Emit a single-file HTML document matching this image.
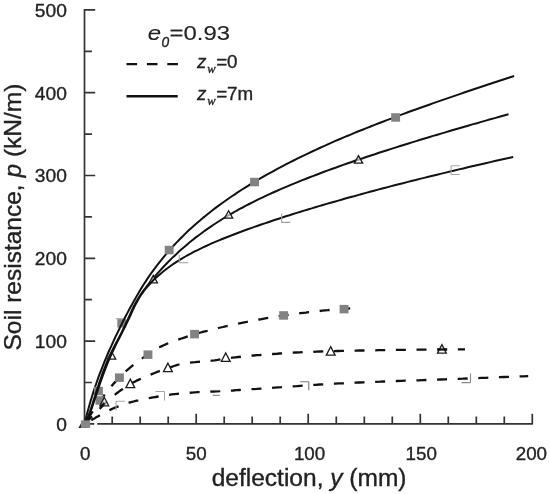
<!DOCTYPE html>
<html lang="en"><head><meta charset="utf-8"><title>p-y curves</title>
<style>html,body{margin:0;padding:0;background:#fff}svg{display:block;filter:blur(0.4px)}text{font-family:"Liberation Sans",sans-serif;fill:#222;stroke:#222;stroke-width:0.35px}.i{font-style:italic}</style>
</head><body>
<svg width="550" height="494" viewBox="0 0 550 494">
<rect width="550" height="494" fill="#fff"/>
<g stroke="#333" stroke-width="1.7" fill="none">
<path d="M84.5 9.00V423.9H532.9"/>
<path d="M84.5 382.5h7.4M84.5 341.1h10.7M84.5 299.7h7.4M84.5 258.3h10.7M84.5 216.9h7.4M84.5 175.5h10.7M84.5 134.1h7.4M84.5 92.7h10.7M84.5 51.3h7.4M84.5 9.9h10.7M112.2 423.9v-7.4M140.2 423.9v-7.4M168.2 423.9v-7.4M196.2 423.9v-10.2M224.2 423.9v-7.4M252.2 423.9v-7.4M280.2 423.9v-7.4M308.2 423.9v-10.2M336.3 423.9v-7.4M364.3 423.9v-7.4M392.3 423.9v-7.4M420.3 423.9v-10.2M448.3 423.9v-7.4M476.3 423.9v-7.4M504.3 423.9v-7.4M532.3 423.9v-10.2"/>
</g>
<path d="M94.3 423.9H97.2" stroke="#fff" stroke-width="2.6"/>
<path d="M78.4 427.9H87L82.6 420.4Z" fill="#222" stroke="none"/>
<g>
<path d="M84.5 424.4 L84.7 424.1 L85.0 423.7 L85.3 423.0 L85.8 422.3 L86.3 421.5 L86.9 420.5 L87.5 419.6 L88.2 418.5 L88.9 417.4 L89.6 416.2 L90.4 415.0 L91.2 413.7 L92.1 412.4 L93.0 411.1 L93.9 409.7 L94.9 408.3 L95.9 406.8 L96.9 405.4 L97.9 403.9 L99.0 402.4 L100.1 400.8 L101.2 399.3 L102.4 397.7 L103.6 396.1 L104.8 394.5 L106.0 392.9 L107.3 391.3 L108.5 389.7 L109.8 388.1 L111.2 386.5 L112.5 384.9 L113.9 383.4 L115.3 381.9 L116.7 380.3 L118.1 378.8 L119.5 377.3 L121.0 375.9 L122.5 374.4 L124.0 373.0 L125.5 371.5 L127.1 370.2 L128.7 368.8 L130.3 367.4 L131.9 366.1 L133.5 364.8 L135.1 363.6 L136.8 362.3 L138.5 361.0 L140.2 359.8 L141.9 358.6 L143.6 357.4 L145.3 356.2 L147.1 355.0 L148.9 353.8 L150.7 352.7 L152.5 351.5 L154.3 350.3 L156.2 349.2 L158.0 348.1 L159.9 347.0 L161.8 346.1 L163.7 345.2 L165.6 344.4 L167.6 343.5 L169.5 342.8 L171.5 342.0 L173.5 341.3 L175.5 340.6 L177.5 339.9 L179.5 339.2 L181.6 338.5 L183.6 337.8 L185.7 337.1 L187.8 336.4 L189.9 335.7 L192.0 335.1 L194.1 334.4 L196.3 333.8 L198.4 333.1 L200.6 332.5 L202.8 331.9 L205.0 331.3 L207.2 330.8 L209.4 330.2 L211.7 329.7 L213.9 329.1 L216.2 328.6 L218.4 328.0 L220.7 327.5 L223.0 327.0 L225.4 326.4 L227.7 325.9 L230.0 325.4 L232.4 324.9 L234.7 324.4 L237.1 323.8 L239.5 323.3 L241.9 322.8 L244.3 322.3 L246.8 321.9 L249.2 321.4 L251.6 320.9 L254.1 320.4 L256.6 320.0 L259.1 319.5 L261.6 319.1 L264.1 318.6 L266.6 318.2 L269.1 317.8 L271.7 317.3 L274.2 316.9 L276.8 316.5 L279.4 316.1 L282.0 315.7 L284.6 315.4 L287.2 315.0 L289.8 314.6 L292.5 314.3 L295.1 313.9 L297.8 313.6 L300.5 313.2 L303.1 312.9 L305.8 312.6 L308.5 312.2 L311.3 311.9 L314.0 311.6 L316.7 311.3 L319.5 311.0 L322.2 310.7 L325.0 310.4 L327.8 310.2 L330.6 309.9 L333.4 309.7 L336.2 309.4 L339.0 309.2 L341.8 309.0 L344.7 308.8 L347.5 308.6 L350.4 308.4" fill="none" stroke="#111" stroke-width="2.3" stroke-dasharray="10 10.65" stroke-dashoffset="-5.4"/>
<rect x="95.5" y="396.2" width="8.9" height="8.5" fill="#828282"/>
<rect x="115.0" y="373.4" width="8.9" height="8.5" fill="#828282"/>
<rect x="143.5" y="350.4" width="8.9" height="8.5" fill="#828282"/>
<rect x="190.1" y="329.9" width="8.9" height="8.5" fill="#828282"/>
<rect x="279.2" y="311.2" width="8.9" height="8.5" fill="#828282"/>
<rect x="339.6" y="304.9" width="8.9" height="8.5" fill="#828282"/>
</g>
<g>
<path d="M84.5 424.4 L84.7 424.1 L85.2 423.7 L85.7 423.1 L86.4 422.4 L87.1 421.6 L87.9 420.7 L88.8 419.8 L89.8 418.8 L90.8 417.7 L91.8 416.6 L93.0 415.4 L94.2 414.2 L95.4 413.0 L96.7 411.7 L98.0 410.4 L99.4 409.0 L100.8 407.7 L102.2 406.3 L103.7 404.9 L105.3 403.4 L106.8 401.9 L108.5 400.4 L110.1 398.9 L111.8 397.4 L113.5 395.9 L115.3 394.4 L117.1 393.0 L118.9 391.6 L120.8 390.3 L122.7 389.0 L124.6 387.7 L126.5 386.4 L128.5 385.2 L130.5 384.0 L132.6 382.8 L134.7 381.7 L136.8 380.6 L138.9 379.6 L141.0 378.6 L143.2 377.6 L145.5 376.7 L147.7 375.7 L150.0 374.8 L152.3 373.9 L154.6 373.0 L156.9 372.0 L159.3 371.1 L161.7 370.1 L164.1 369.2 L166.6 368.4 L169.1 367.6 L171.6 366.8 L174.1 366.0 L176.6 365.2 L179.2 364.5 L181.8 363.9 L184.4 363.4 L187.1 363.1 L189.7 362.7 L192.4 362.4 L195.1 362.2 L197.8 361.9 L200.6 361.7 L203.4 361.5 L206.2 361.3 L209.0 361.0 L211.8 360.7 L214.7 360.4 L217.6 359.9 L220.5 359.3 L223.4 358.7 L226.4 358.3 L229.3 358.0 L232.3 357.6 L235.3 357.3 L238.3 357.0 L241.4 356.7 L244.4 356.4 L247.5 356.1 L250.6 355.8 L253.8 355.5 L256.9 355.2 L260.1 355.0 L263.3 354.7 L266.5 354.5 L269.7 354.2 L272.9 354.0 L276.2 353.8 L279.4 353.5 L282.7 353.3 L286.1 353.1 L289.4 352.9 L292.7 352.7 L296.1 352.5 L299.5 352.4 L302.9 352.2 L306.3 352.0 L309.8 351.9 L313.2 351.8 L316.7 351.6 L320.2 351.5 L323.7 351.4 L327.2 351.3 L330.8 351.2 L334.3 351.1 L337.9 351.0 L341.5 350.9 L345.1 350.9 L348.7 350.8 L352.4 350.7 L356.0 350.6 L359.7 350.5 L363.4 350.5 L367.1 350.4 L370.8 350.3 L374.6 350.3 L378.3 350.2 L382.1 350.1 L385.9 350.1 L389.7 350.0 L393.5 350.0 L397.4 349.9 L401.2 349.9 L405.1 349.8 L409.0 349.8 L412.9 349.7 L416.8 349.7 L420.7 349.7 L424.7 349.6 L428.6 349.6 L432.6 349.6 L436.6 349.5 L440.6 349.5 L444.7 349.5 L448.7 349.5 L452.7 349.4 L456.8 349.4 L460.9 349.4 L465.0 349.4" fill="none" stroke="#111" stroke-width="2.3" stroke-dasharray="10 10.65" stroke-dashoffset="-1.1"/>
<path d="M99.9 405.8H108.7L104.3 397.3Z" fill="#fff" fill-opacity="0.6" stroke="#1a1a1a" stroke-width="1.3" stroke-linejoin="miter"/>
<path d="M125.9 387.7H134.7L130.3 379.2Z" fill="#fff" fill-opacity="0.6" stroke="#1a1a1a" stroke-width="1.3" stroke-linejoin="miter"/>
<path d="M163.5 371.6H172.3L167.9 363.1Z" fill="#fff" fill-opacity="0.6" stroke="#1a1a1a" stroke-width="1.3" stroke-linejoin="miter"/>
<path d="M221.3 361.4H230.1L225.7 352.9Z" fill="#fff" fill-opacity="0.6" stroke="#1a1a1a" stroke-width="1.3" stroke-linejoin="miter"/>
<path d="M326.3 355.2H335.1L330.7 346.7Z" fill="#fff" fill-opacity="0.6" stroke="#1a1a1a" stroke-width="1.3" stroke-linejoin="miter"/>
<path d="M437.5 353.2H446.3L441.9 344.7Z" fill="#fff" fill-opacity="0.6" stroke="#1a1a1a" stroke-width="1.3" stroke-linejoin="miter"/>
<path d="M104.6 403.2l-4.2 3.4M437.6 349.5H446.4" stroke="#111" stroke-width="2.2" fill="none"/>
</g>
<g>
<path d="M84.5 424.4 L84.8 424.2 L85.3 423.9 L85.9 423.5 L86.7 423.0 L87.5 422.5 L88.5 421.9 L89.5 421.3 L90.6 420.6 L91.8 419.9 L93.1 419.1 L94.4 418.4 L95.8 417.6 L97.2 416.8 L98.7 415.9 L100.2 415.0 L101.8 414.1 L103.5 413.2 L105.2 412.3 L106.9 411.4 L108.7 410.5 L110.6 409.6 L112.4 408.7 L114.4 407.9 L116.3 407.1 L118.3 406.4 L120.4 405.6 L122.5 404.8 L124.6 404.1 L126.8 403.4 L129.0 402.7 L131.2 402.1 L133.5 401.5 L135.8 400.9 L138.2 400.4 L140.6 399.8 L143.0 399.3 L145.4 398.8 L147.9 398.3 L150.4 397.9 L153.0 397.4 L155.6 397.0 L158.2 396.5 L160.8 396.0 L163.5 395.6 L166.2 395.2 L169.0 394.8 L171.7 394.4 L174.5 394.1 L177.4 393.8 L180.2 393.5 L183.1 393.3 L186.0 393.0 L189.0 392.8 L191.9 392.6 L194.9 392.4 L198.0 392.2 L201.0 392.1 L204.1 391.9 L207.2 391.8 L210.3 391.7 L213.5 391.5 L216.7 391.4 L219.9 391.2 L223.1 391.0 L226.4 390.8 L229.7 390.7 L233.0 390.5 L236.3 390.2 L239.7 390.0 L243.1 389.8 L246.5 389.6 L249.9 389.3 L253.4 389.1 L256.9 388.9 L260.4 388.6 L263.9 388.4 L267.4 388.1 L271.0 387.9 L274.6 387.6 L278.2 387.3 L281.9 387.1 L285.5 386.8 L289.2 386.6 L292.9 386.3 L296.7 386.1 L300.4 385.8 L304.2 385.6 L308.0 385.3 L311.8 385.0 L315.7 384.8 L319.5 384.5 L323.4 384.3 L327.3 384.0 L331.3 383.8 L335.2 383.6 L339.2 383.4 L343.2 383.3 L347.2 383.1 L351.2 382.9 L355.2 382.7 L359.3 382.5 L363.4 382.3 L367.5 382.2 L371.7 382.0 L375.8 381.8 L380.0 381.7 L384.2 381.5 L388.4 381.4 L392.6 381.2 L396.9 381.0 L401.1 380.9 L405.4 380.7 L409.7 380.6 L414.1 380.4 L418.4 380.3 L422.8 380.1 L427.1 380.0 L431.5 379.8 L436.0 379.7 L440.4 379.5 L444.9 379.3 L449.3 379.2 L453.8 379.0 L458.4 378.8 L462.9 378.7 L467.4 378.5 L472.0 378.3 L476.6 378.1 L481.2 377.9 L485.8 377.8 L490.5 377.6 L495.1 377.4 L499.8 377.2 L504.5 377.0 L509.2 376.8 L513.9 376.7 L518.7 376.5 L523.4 376.3 L528.2 376.1" fill="none" stroke="#111" stroke-width="2.3" stroke-dasharray="10 10.65" stroke-dashoffset="-8.0"/>
<path d="M116.0 401.2H125.0M116.0 401.2V410.2" fill="none" stroke="#a6a6a6" stroke-width="1.1"/>
<path d="M155.5 391.5H164.5M164.5 391.5V400.5" fill="none" stroke="#a6a6a6" stroke-width="1.1"/>
<path d="M212.7 390.4H219.8M212.7 395.3H219.8" fill="none" stroke="#777" stroke-width="1"/>
<path d="M300.2 381.8H308.8M308.8 381.8V390.2" fill="none" stroke="#777" stroke-width="1.1"/>
<path d="M461.5 382.6H470.5M470.5 373.6V382.6" fill="none" stroke="#888" stroke-width="1.1"/>
</g>
<g>
<rect x="117.3" y="319.1" width="8.9" height="8.5" fill="#828282"/>
<path d="M84.5 424.0 L84.8 422.9 L85.2 420.9 L85.9 418.4 L86.6 415.4 L87.4 412.3 L88.4 408.8 L89.4 405.3 L90.4 401.6 L91.6 397.8 L92.8 393.9 L94.1 389.9 L95.4 386.0 L96.8 382.0 L98.2 377.9 L99.7 373.9 L101.3 369.8 L102.9 365.8 L104.5 361.7 L106.2 357.6 L107.9 353.5 L109.7 349.4 L111.6 345.4 L113.4 341.3 L115.3 337.2 L117.3 333.1 L119.3 329.0 L121.3 324.9 L123.3 320.8 L125.4 316.7 L127.6 312.6 L129.7 308.5 L132.0 304.5 L134.2 300.4 L136.5 296.4 L138.8 292.5 L141.1 288.6 L143.5 284.8 L145.9 281.1 L148.3 277.4 L150.8 273.8 L153.3 270.3 L155.9 266.9 L158.4 263.6 L161.0 260.3 L163.6 257.1 L166.3 253.9 L169.0 250.8 L171.7 247.8 L174.4 244.8 L177.2 241.9 L180.0 239.0 L182.8 236.2 L185.6 233.4 L188.5 230.6 L191.4 228.0 L194.4 225.3 L197.3 222.7 L200.3 220.2 L203.3 217.6 L206.3 215.2 L209.4 212.7 L212.5 210.3 L215.6 207.9 L218.7 205.6 L221.9 203.3 L225.1 201.0 L228.3 198.7 L231.5 196.5 L234.8 194.3 L238.0 192.2 L241.3 190.0 L244.7 187.9 L248.0 185.8 L251.4 183.7 L254.8 181.7 L258.2 179.7 L261.6 177.7 L265.1 175.7 L268.6 173.7 L272.1 171.8 L275.6 169.9 L279.2 167.9 L282.7 166.1 L286.3 164.2 L289.9 162.3 L293.6 160.5 L297.2 158.7 L300.9 156.9 L304.6 155.1 L308.3 153.3 L312.1 151.5 L315.8 149.8 L319.6 148.0 L323.4 146.3 L327.2 144.6 L331.1 142.9 L334.9 141.2 L338.8 139.5 L342.7 137.9 L346.6 136.2 L350.6 134.6 L354.5 132.9 L358.5 131.3 L362.5 129.7 L366.5 128.1 L370.6 126.5 L374.6 124.9 L378.7 123.3 L382.8 121.7 L386.9 120.1 L391.1 118.6 L395.2 117.0 L399.4 115.4 L403.6 113.9 L407.8 112.3 L412.0 110.8 L416.3 109.3 L420.5 107.7 L424.8 106.2 L429.1 104.7 L433.4 103.1 L437.7 101.6 L442.1 100.1 L446.5 98.6 L450.9 97.1 L455.3 95.6 L459.7 94.1 L464.1 92.5 L468.6 91.0 L473.1 89.5 L477.6 88.0 L482.1 86.5 L486.6 85.0 L491.1 83.5 L495.7 82.0 L500.3 80.5 L504.9 79.0 L509.5 77.5 L514.1 76.0" fill="none" stroke="#111" stroke-width="2.0"/>
<rect x="94.0" y="386.8" width="8.9" height="8.5" fill="#828282"/>
<rect x="164.7" y="245.8" width="8.9" height="8.5" fill="#828282"/>
<rect x="250.1" y="177.8" width="8.9" height="8.5" fill="#828282"/>
<rect x="391.2" y="113.2" width="8.9" height="8.5" fill="#828282"/>
</g>
<g>
<path d="M84.5 424.0 L84.8 423.6 L85.2 422.9 L85.8 421.8 L86.6 420.3 L87.4 418.4 L88.3 416.1 L89.3 413.4 L90.4 410.3 L91.5 407.0 L92.7 403.3 L93.9 399.4 L95.3 395.2 L96.6 390.9 L98.1 386.5 L99.5 382.1 L101.1 377.6 L102.6 373.1 L104.3 368.8 L105.9 364.5 L107.6 360.3 L109.4 356.4 L111.2 352.6 L113.0 348.9 L114.9 345.3 L116.8 341.7 L118.8 337.9 L120.8 334.1 L122.8 330.0 L124.9 325.7 L127.0 321.2 L129.2 316.4 L131.3 311.7 L133.5 307.0 L135.8 302.6 L138.1 298.7 L140.4 295.0 L142.7 291.7 L145.1 288.5 L147.5 285.4 L150.0 282.3 L152.4 279.3 L154.9 276.3 L157.5 273.4 L160.0 270.6 L162.6 267.8 L165.2 265.0 L167.9 262.3 L170.5 259.6 L173.2 256.9 L176.0 254.4 L178.7 251.8 L181.5 249.3 L184.3 246.9 L187.2 244.4 L190.0 242.1 L192.9 239.7 L195.8 237.4 L198.8 235.2 L201.8 233.0 L204.7 230.8 L207.8 228.7 L210.8 226.6 L213.9 224.5 L217.0 222.5 L220.1 220.5 L223.2 218.5 L226.4 216.6 L229.6 214.7 L232.8 212.9 L236.0 211.0 L239.3 209.2 L242.6 207.5 L245.9 205.7 L249.2 204.0 L252.5 202.3 L255.9 200.6 L259.3 198.9 L262.7 197.3 L266.2 195.7 L269.6 194.1 L273.1 192.5 L276.6 191.0 L280.1 189.4 L283.7 187.9 L287.3 186.4 L290.8 184.8 L294.5 183.4 L298.1 181.9 L301.7 180.4 L305.4 179.0 L309.1 177.5 L312.8 176.1 L316.5 174.7 L320.3 173.2 L324.1 171.8 L327.9 170.4 L331.7 169.0 L335.5 167.7 L339.4 166.3 L343.2 164.9 L347.1 163.5 L351.0 162.2 L355.0 160.8 L358.9 159.5 L362.9 158.2 L366.9 156.8 L370.9 155.5 L374.9 154.2 L378.9 152.8 L383.0 151.5 L387.1 150.2 L391.2 148.9 L395.3 147.6 L399.4 146.3 L403.6 145.0 L407.7 143.7 L411.9 142.4 L416.1 141.1 L420.4 139.8 L424.6 138.5 L428.9 137.2 L433.1 135.9 L437.4 134.7 L441.8 133.4 L446.1 132.1 L450.4 130.8 L454.8 129.5 L459.2 128.3 L463.6 127.0 L468.0 125.7 L472.4 124.4 L476.9 123.2 L481.3 121.9 L485.8 120.6 L490.3 119.3 L494.8 118.1 L499.4 116.8 L503.9 115.5 L508.5 114.3" fill="none" stroke="#111" stroke-width="2.0"/>
<path d="M107.5 359.2H115.7L111.6 351.8Z" fill="#fff" fill-opacity="0.6" stroke="#1a1a1a" stroke-width="1.3" stroke-linejoin="miter"/>
<path d="M149.2 282.8H157.4L153.3 275.4Z" fill="#fff" fill-opacity="0.6" stroke="#1a1a1a" stroke-width="1.3" stroke-linejoin="miter"/>
<path d="M224.5 218.2H232.7L228.6 210.8Z" fill="#fff" fill-opacity="0.6" stroke="#1a1a1a" stroke-width="1.3" stroke-linejoin="miter"/>
<path d="M354.4 163.1H362.6L358.5 155.7Z" fill="#fff" fill-opacity="0.6" stroke="#1a1a1a" stroke-width="1.3" stroke-linejoin="miter"/>
</g>
<g>
<path d="M84.5 424.0 L84.8 423.7 L85.2 423.1 L85.9 422.1 L86.6 420.8 L87.4 419.1 L88.3 417.0 L89.3 414.6 L90.4 411.8 L91.6 408.6 L92.8 405.1 L94.0 401.4 L95.4 397.4 L96.8 393.3 L98.2 388.9 L99.7 384.5 L101.2 380.1 L102.8 375.6 L104.5 371.1 L106.2 366.7 L107.9 362.3 L109.7 358.1 L111.5 354.0 L113.4 350.0 L115.3 346.0 L117.2 342.1 L119.2 338.2 L121.2 334.2 L123.3 330.1 L125.4 325.9 L127.5 321.5 L129.7 317.0 L131.9 312.2 L134.1 307.4 L136.4 302.9 L138.7 298.7 L141.0 295.0 L143.4 291.6 L145.8 288.5 L148.2 285.7 L150.7 283.0 L153.2 280.4 L155.7 278.0 L158.3 275.7 L160.9 273.4 L163.5 271.3 L166.1 269.2 L168.8 267.2 L171.5 265.2 L174.2 263.4 L177.0 261.6 L179.8 259.8 L182.6 258.1 L185.4 256.5 L188.3 254.8 L191.2 253.3 L194.1 251.7 L197.1 250.3 L200.1 248.8 L203.1 247.4 L206.1 246.0 L209.1 244.6 L212.2 243.2 L215.3 241.9 L218.4 240.6 L221.6 239.3 L224.8 238.0 L228.0 236.7 L231.2 235.5 L234.4 234.2 L237.7 233.0 L241.0 231.8 L244.3 230.5 L247.7 229.3 L251.0 228.1 L254.4 226.9 L257.8 225.7 L261.3 224.5 L264.7 223.4 L268.2 222.2 L271.7 221.0 L275.2 219.8 L278.7 218.7 L282.3 217.5 L285.9 216.3 L289.5 215.2 L293.1 214.0 L296.8 212.9 L300.5 211.8 L304.1 210.6 L307.9 209.5 L311.6 208.4 L315.3 207.2 L319.1 206.1 L322.9 205.0 L326.7 203.9 L330.6 202.8 L334.4 201.7 L338.3 200.6 L342.2 199.5 L346.1 198.3 L350.0 197.2 L354.0 196.2 L358.0 195.1 L361.9 194.0 L366.0 192.9 L370.0 191.8 L374.0 190.7 L378.1 189.6 L382.2 188.5 L386.3 187.5 L390.4 186.4 L394.6 185.3 L398.7 184.2 L402.9 183.2 L407.1 182.1 L411.3 181.0 L415.6 180.0 L419.8 178.9 L424.1 177.9 L428.4 176.8 L432.7 175.7 L437.0 174.7 L441.4 173.6 L445.7 172.6 L450.1 171.5 L454.5 170.5 L458.9 169.4 L463.3 168.4 L467.8 167.3 L472.2 166.3 L476.7 165.3 L481.2 164.2 L485.7 163.2 L490.3 162.1 L494.8 161.1 L499.4 160.1 L504.0 159.0 L508.6 158.0 L513.2 157.0" fill="none" stroke="#111" stroke-width="2.0"/>
<path d="M115.8 318.7H123" fill="none" stroke="#a6a6a6" stroke-width="1.1"/>
<path d="M179.3 254.8V262.8H188.3" fill="none" stroke="#a0a0a0" stroke-width="1.1"/>
<path d="M281.6 213.6V222.4H290.4" fill="none" stroke="#a0a0a0" stroke-width="1.1"/>
<path d="M451.1 165.7H459.9M451.1 174.5H459.9M451.1 165.7V174.5" fill="none" stroke="#a6a6a6" stroke-width="1.1"/>
</g>
<rect x="80.9" y="420.4" width="9.3" height="7.5" fill="#878787"/>
<text transform="translate(66.8 430.8) scale(1 1)" font-size="19.2" text-anchor="end">0</text>
<text transform="translate(66.8 348.0) scale(1 1)" font-size="19.2" text-anchor="end">100</text>
<text transform="translate(66.8 265.2) scale(1 1)" font-size="19.2" text-anchor="end">200</text>
<text transform="translate(66.8 182.4) scale(1 1)" font-size="19.2" text-anchor="end">300</text>
<text transform="translate(66.8 99.6) scale(1 1)" font-size="19.2" text-anchor="end">400</text>
<text transform="translate(66.8 16.8) scale(1 1)" font-size="19.2" text-anchor="end">500</text>
<text transform="translate(85.3 459.6) scale(1 1)" font-size="18.8" text-anchor="middle">0</text>
<text transform="translate(196.2 459.6) scale(1 1)" font-size="18.8" text-anchor="middle">50</text>
<text transform="translate(309.6 459.6) scale(1 1)" font-size="18.8" text-anchor="middle">100</text>
<text transform="translate(421.2 459.6) scale(1 1)" font-size="18.8" text-anchor="middle">150</text>
<text transform="translate(531.4 459.6) scale(1 1)" font-size="18.8" text-anchor="middle">200</text>
<text transform="translate(211.7 486.4) scale(1.066 1)" font-size="23" text-anchor="start">deflection, <tspan class="i">y</tspan> (mm)</text>
<text transform="translate(20.6 350.5) rotate(-90)" font-size="24.5">Soil resistance, <tspan class="i">p</tspan> (kN/m)</text>
<text transform="translate(147.8 40.3) scale(1.14 1)" font-size="21" text-anchor="start" style="stroke-width:0.12px"><tspan class="i">e</tspan></text>
<text transform="translate(161.6 46.7) scale(0.95 1)" font-size="14.5" text-anchor="start"><tspan class="i">0</tspan></text>
<text transform="translate(169.6 40.3) scale(1.14 1)" font-size="21" text-anchor="start" style="stroke-width:0.12px">=0.93</text>
<path d="M126.5 64.1H178" stroke="#111" stroke-width="2.1" stroke-dasharray="10.6 9.8" fill="none"/>
<path d="M126.5 96.3H177.7" stroke="#111" stroke-width="2.4" fill="none"/>
<text transform="translate(197.0 68.4) scale(1 1)" font-size="18.8" text-anchor="start"><tspan class="i">z</tspan><tspan class="i" font-family="'Liberation Serif',serif" font-size="12.5" dx="0.8" dy="4.8">w</tspan><tspan dx="0.6" dy="-4.8">=0</tspan></text>
<text transform="translate(197.0 100.2) scale(1 1)" font-size="18.8" text-anchor="start"><tspan class="i">z</tspan><tspan class="i" font-family="'Liberation Serif',serif" font-size="12.5" dx="0.8" dy="4.8">w</tspan><tspan dx="0.6" dy="-4.8">=7m</tspan></text>
</svg></body></html>
